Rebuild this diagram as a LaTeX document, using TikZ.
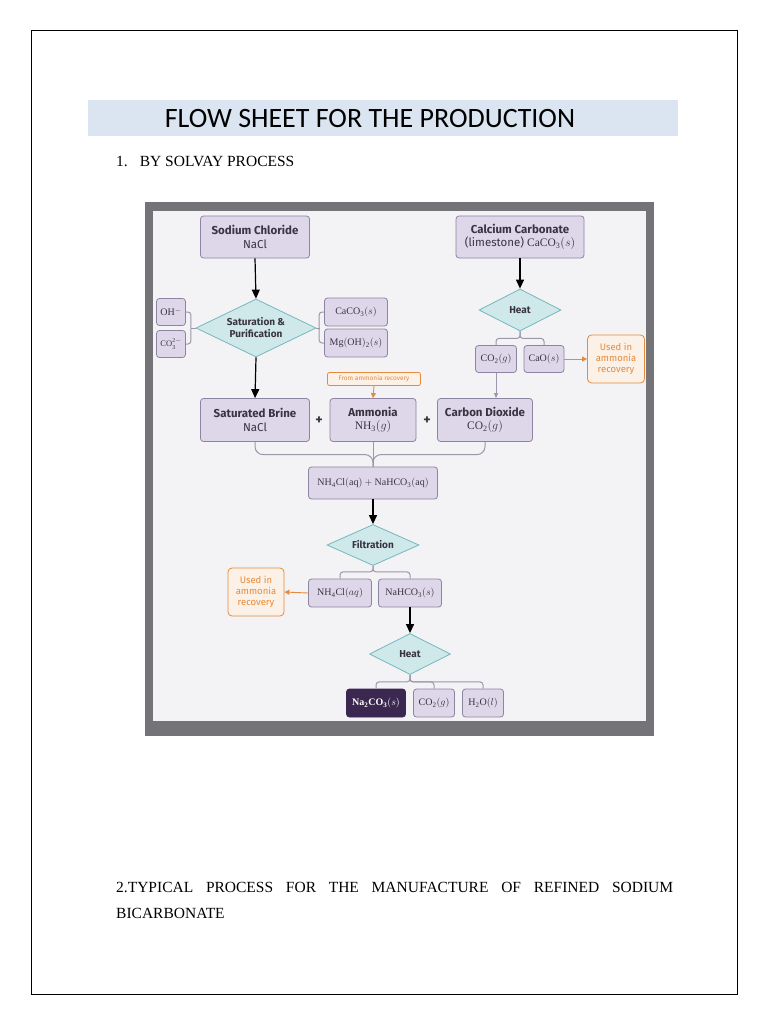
\documentclass[tikz,border=0pt]{standalone}
\usepackage{fontspec}
\setmainfont{Liberation Serif}
\newfontfamily\titlefont{Carlito}
\newfontfamily\boxfont{Fira Sans}
\usetikzlibrary{shapes.geometric,arrows.meta,calc}

\definecolor{bandblue}{HTML}{DBE5F1}
\definecolor{framegray}{HTML}{737378}
\definecolor{sheet}{HTML}{F3F2F5}
\definecolor{boxfill}{HTML}{DDD7E9}
\definecolor{boxline}{HTML}{8C84A0}
\definecolor{boxtext}{HTML}{3A3342}
\definecolor{diafill}{HTML}{CFE9EB}
\definecolor{dialine}{HTML}{74B8BC}
\definecolor{recov}{HTML}{E58A3C}
\definecolor{recovfill}{HTML}{FCF1E6}
\definecolor{darkbox}{HTML}{3A2850}
\definecolor{linkgray}{HTML}{9D96AD}

\tikzset{
  box/.style={draw=boxline, fill=boxfill, rounded corners=3pt, line width=0.8pt,
    text=boxtext, font=\boxfont\fontsize{11.5}{13.5}\selectfont, align=center, inner sep=0pt},
  chem/.style={box, font=\fontsize{10}{12}\selectfont},
  decision/.style={diamond, draw=dialine, fill=diafill, line width=0.8pt, shape aspect=2,
    inner sep=0pt, text=boxtext, font=\boxfont\bfseries\fontsize{10}{12}\selectfont, align=center},
  usedbox/.style={draw=recov, fill=recovfill, rounded corners=4pt, line width=0.8pt,
    text=recov, font=\boxfont\fontsize{9.5}{11}\selectfont, align=center, inner sep=0pt},
  plus/.style={text=boxtext, font=\boxfont\bfseries\fontsize{14}{14}\selectfont},
  flow/.style={-{Triangle[length=9pt,width=8pt]}, line width=1.2pt},
  link/.style={draw=linkgray, line width=1pt, rounded corners=3pt},
  toorange/.style={-{Triangle[length=5pt,width=5pt]}, draw=recov, line width=0.9pt},
  bodytext/.style={anchor=base west, inner sep=0pt, font=\fontsize{15.5}{18}\selectfont},
}

\begin{document}
\begin{tikzpicture}[x=1pt,y=-1pt]
  \useasboundingbox (0,0) rectangle (768,1024);

  % Page border and heading
  \draw[line width=0.8pt] (31,30) rectangle (737,994);
  \fill[bandblue] (88,100) rectangle (678,136);
  \node[font=\titlefont\fontsize{28}{30}\selectfont] (title) at (370,119) {FLOW SHEET FOR THE PRODUCTION};
  \node[bodytext] (partone) at (116,167) {1.\hspace{12pt}BY SOLVAY PROCESS};

  % Frame of the flow sheet
  \fill[framegray] (145,202) rectangle (654,736);
  \fill[sheet] (153,211) rectangle (646,721);

  % Brine line
  \node[box, minimum width=109, minimum height=42] (nacl) at (255,237) {\textbf{Sodium Chloride}\\NaCl};
  \node[decision, minimum width=120, minimum height=58] (sat) at (256,328) {Saturation \&\\Purification};
  \node[chem, minimum width=29, minimum height=27] (oh) at (171,312) {$\mathrm{OH^-}$};
  \node[chem, font=\fontsize{8.5}{10}\selectfont, minimum width=29, minimum height=27] (co3) at (171,344) {$\mathrm{CO_3^{2-}}$};
  \node[chem, minimum width=63, minimum height=28] (caco3s) at (356,312) {$\mathrm{CaCO_3}(s)$};
  \node[chem, minimum width=63, minimum height=28] (mgoh) at (356,343) {$\mathrm{Mg(OH)_2}(s)$};

  % Limestone line
  \node[box, minimum width=128, minimum height=42] (caco3) at (520,237) {\textbf{Calcium Carbonate}\\(limestone) $\mathrm{CaCO_3}(s)$};
  \node[decision, minimum width=82, minimum height=42] (heatA) at (520,310) {Heat};
  \node[chem, minimum width=41, minimum height=27] (co2a) at (496,359) {$\mathrm{CO_2}(g)$};
  \node[chem, minimum width=40, minimum height=27] (cao) at (544,359) {$\mathrm{CaO}(s)$};
  \node[usedbox, minimum width=57, minimum height=48] (usedA) at (616,359) {Used in\\ammonia\\recovery};

  % Reactants
  \node[box, minimum width=109, minimum height=43] (brine) at (255,420) {\textbf{Saturated Brine}\\NaCl};
  \node[plus] (plusA) at (319,421) {+};
  \node[box, minimum width=86, minimum height=43] (nh3) at (373,420) {\textbf{Ammonia}\\$\mathrm{NH_3}(g)$};
  \node[plus] (plusB) at (427,421) {+};
  \node[box, minimum width=95, minimum height=43] (co2b) at (485,420) {\textbf{Carbon Dioxide}\\$\mathrm{CO_2}(g)$};
  \node[usedbox, rounded corners=2pt, font=\boxfont\fontsize{6.5}{7}\selectfont, minimum width=93, minimum height=13] (fromrec) at (374,379) {From ammonia recovery};
  \node[chem, minimum width=129, minimum height=32] (mix) at (373,483) {$\mathrm{NH_4Cl(aq)} + \mathrm{NaHCO_3(aq)}$};

  % Filtration and heating
  \node[decision, minimum width=92, minimum height=41] (filt) at (373,545) {Filtration};
  \node[chem, minimum width=63, minimum height=28] (nh4cl) at (340,593) {$\mathrm{NH_4Cl}(aq)$};
  \node[chem, minimum width=63, minimum height=28] (nahco3) at (410,593) {$\mathrm{NaHCO_3}(s)$};
  \node[usedbox, minimum width=56, minimum height=48] (usedB) at (256,592) {Used in\\ammonia\\recovery};
  \node[decision, minimum width=81, minimum height=41] (heatB) at (410,654) {Heat};
  \node[chem, fill=darkbox, draw=darkbox, text=white, font=\bfseries\fontsize{10}{12}\selectfont, minimum width=59, minimum height=28] (na2co3) at (376,703) {$\mathbf{Na_2CO_3}(s)$};
  \node[chem, minimum width=41, minimum height=28] (co2c) at (434,703) {$\mathrm{CO_2}(g)$};
  \node[chem, minimum width=41, minimum height=28] (h2o) at (483,703) {$\mathrm{H_2O}(l)$};

  % Main arrows
  \draw[flow] (nacl.south) -- (sat.north);
  \draw[flow] (sat.south) -- (brine.north);
  \draw[flow] (caco3.south) -- (heatA.north);
  \draw[flow] (mix.south) -- (filt.north);
  \draw[flow] (nahco3.south) -- (heatB.north);
  \draw[-{Triangle[length=5pt,width=4pt]}, draw=linkgray, line width=0.9pt] (co2a.south) -- (co2a.south |- co2b.north);

  % Side streams
  \draw[toorange] (cao.east) -- (usedA.west);
  \draw[toorange] (nh4cl.west) -- (usedB.east);
  \draw[toorange] (fromrec.south) -- (nh3.north);

  % Brackets
  \draw[link] (oh.east) -- ++(5,0) |- (co3.east);
  \draw[link] (sat.west) -- ++(-5,0);
  \draw[link] (caco3s.west) -- ++(-5,0) |- (mgoh.west);
  \draw[link] (sat.east) -- ++(4,0);
  \draw[link] (heatA.south) -- ++(0,7) -| (co2a.north);
  \draw[link] (heatA.south) -- ++(0,7) -| (cao.north);
  \draw[link, rounded corners=8pt] (brine.south) |- ($(mix.north)+(0,-12)$) -- (mix.north);
  \draw[link, rounded corners=8pt] (co2b.south) |- ($(mix.north)+(0,-12)$) -- (mix.north);
  \draw[link] (nh3.south) -- (mix.north);
  \draw[link] (filt.south) -- ++(0,6) -| (nh4cl.north);
  \draw[link] (filt.south) -- ++(0,6) -| (nahco3.north);
  \draw[link] (heatB.south) -- ++(0,7) -| (na2co3.north);
  \draw[link] (heatB.south) -- ++(0,7) -| (co2c.north);
  \draw[link] (heatB.south) -- ++(0,7) -| (h2o.north);

  % Second heading
  \node[bodytext] (parttwo) at (116,892)
    {\hbox to 557pt{2.TYPICAL\hfill PROCESS\hfill FOR\hfill THE\hfill MANUFACTURE\hfill OF\hfill REFINED\hfill SODIUM}};
  \node[bodytext] (partthree) at (116,918) {BICARBONATE};
\end{tikzpicture}
\end{document}
